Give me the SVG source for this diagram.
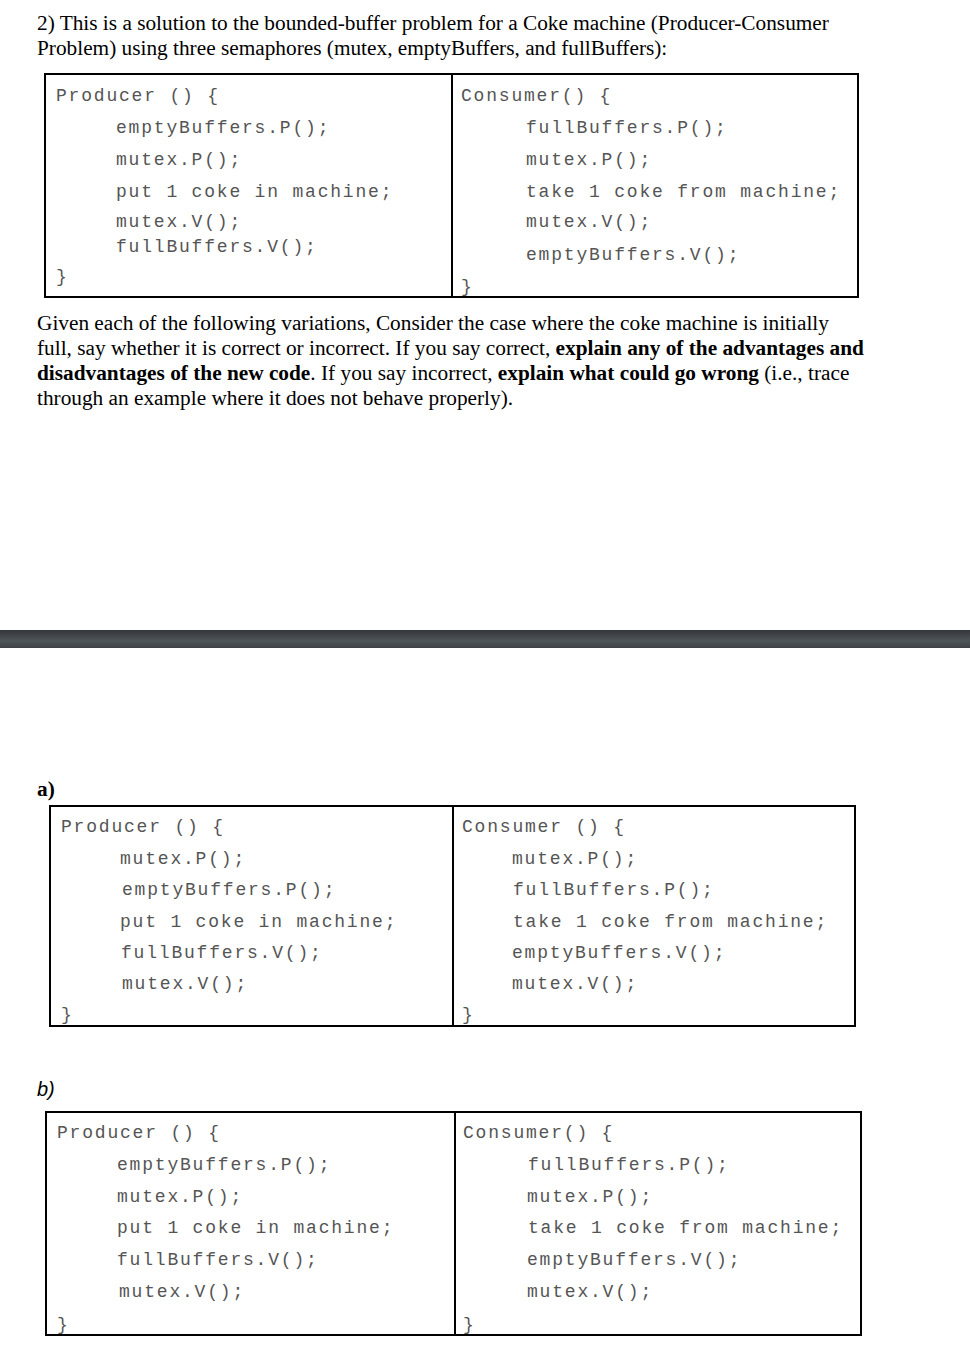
<svg xmlns="http://www.w3.org/2000/svg" width="970" height="1362" viewBox="0 0 970 1362">
<defs>
<style>
.t{font-family:"Liberation Serif",serif;font-size:21.3px;fill:#000}
.c{font-family:"Liberation Mono",monospace;font-size:18px;letter-spacing:1.8px;fill:#555}
.b{fill:none;stroke:#000;stroke-width:2}
</style>
<linearGradient id="g" x1="0" y1="0" x2="0" y2="1"><stop offset="0" stop-color="#33363a"/><stop offset="0.6" stop-color="#50555a"/><stop offset="1" stop-color="#3e4246"/></linearGradient>
</defs>
<rect width="970" height="1362" fill="#fff"/>
<text class="t" x="37" y="30">2) This is a solution to the bounded-buffer problem for a Coke machine (Producer-Consumer</text>
<text class="t" x="37" y="55">Problem) using three semaphores (mutex, emptyBuffers, and fullBuffers):</text>
<g id="top">
<rect class="b" x="45" y="74" width="813" height="223"/>
<line class="b" x1="452" y1="74" x2="452" y2="297"/>
<text class="c" x="56" y="101">Producer () {</text>
<text class="c" x="116" y="133">emptyBuffers.P();</text>
<text class="c" x="116" y="165">mutex.P();</text>
<text class="c" x="116" y="197">put 1 coke in machine;</text>
<text class="c" x="116" y="227">mutex.V();</text>
<text class="c" x="116" y="252">fullBuffers.V();</text>
<text class="c" x="56" y="282">}</text>
<text class="c" x="461" y="101">Consumer() {</text>
<text class="c" x="526" y="133">fullBuffers.P();</text>
<text class="c" x="526" y="165">mutex.P();</text>
<text class="c" x="526" y="197">take 1 coke from machine;</text>
<text class="c" x="526" y="227">mutex.V();</text>
<text class="c" x="526" y="260">emptyBuffers.V();</text>
<text class="c" x="461" y="292">}</text>
</g>
<text class="t" x="37" y="330">Given each of the following variations, Consider the case where the coke machine is initially</text>
<text class="t" x="37" y="355">full, say whether it is correct or incorrect. If you say correct, <tspan font-weight="bold">explain any of the advantages and</tspan></text>
<text class="t" x="37" y="380"><tspan font-weight="bold">disadvantages of the new code</tspan>. If you say incorrect, <tspan font-weight="bold">explain what could go wrong</tspan> (i.e., trace</text>
<text class="t" x="37" y="405">through an example where it does not behave properly).</text>
<rect x="0" y="630" width="970" height="18" fill="url(#g)"/>
<text class="t" x="37" y="796" font-weight="bold">a)</text>
<g id="a">
<rect class="b" x="50" y="806" width="805" height="220"/>
<line class="b" x1="453" y1="806" x2="453" y2="1026"/>
<text class="c" x="61" y="832">Producer () {</text>
<text class="c" x="120" y="864">mutex.P();</text>
<text class="c" x="122" y="895">emptyBuffers.P();</text>
<text class="c" x="120" y="927">put 1 coke in machine;</text>
<text class="c" x="121" y="958">fullBuffers.V();</text>
<text class="c" x="122" y="989">mutex.V();</text>
<text class="c" x="61" y="1020">}</text>
<text class="c" x="462" y="832">Consumer () {</text>
<text class="c" x="512" y="864">mutex.P();</text>
<text class="c" x="513" y="895">fullBuffers.P();</text>
<text class="c" x="513" y="927">take 1 coke from machine;</text>
<text class="c" x="512" y="958">emptyBuffers.V();</text>
<text class="c" x="512" y="989">mutex.V();</text>
<text class="c" x="462" y="1020">}</text>
</g>
<text x="37" y="1096" font-family="Liberation Sans,sans-serif" font-size="20" font-style="italic">b)</text>
<g id="b">
<rect class="b" x="46" y="1112" width="815" height="223"/>
<line class="b" x1="455" y1="1112" x2="455" y2="1335"/>
<text class="c" x="57" y="1138">Producer () {</text>
<text class="c" x="117" y="1170">emptyBuffers.P();</text>
<text class="c" x="117" y="1202">mutex.P();</text>
<text class="c" x="117" y="1233">put 1 coke in machine;</text>
<text class="c" x="117" y="1265">fullBuffers.V();</text>
<text class="c" x="119" y="1297">mutex.V();</text>
<text class="c" x="57" y="1330">}</text>
<text class="c" x="463" y="1138">Consumer() {</text>
<text class="c" x="528" y="1170">fullBuffers.P();</text>
<text class="c" x="527" y="1202">mutex.P();</text>
<text class="c" x="528" y="1233">take 1 coke from machine;</text>
<text class="c" x="527" y="1265">emptyBuffers.V();</text>
<text class="c" x="527" y="1297">mutex.V();</text>
<text class="c" x="463" y="1330">}</text>
</g>
</svg>
